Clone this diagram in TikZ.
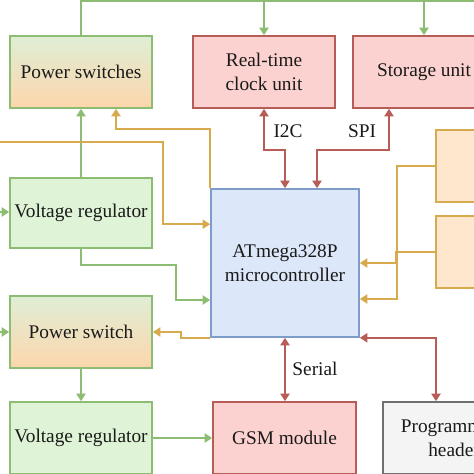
\documentclass[tikz,border=0pt]{standalone}
\usepackage{fontspec}
\setmainfont{Liberation Serif}
\usetikzlibrary{arrows.meta}
\definecolor{gline}{HTML}{8CBD72}
\definecolor{gfill}{HTML}{DFF4D6}
\definecolor{rline}{HTML}{B85C58}
\definecolor{rfill}{HTML}{FBD2D0}
\definecolor{bline}{HTML}{7E9CC8}
\definecolor{bfill}{HTML}{DCE8FA}
\definecolor{oline}{HTML}{D8AA4E}
\definecolor{ofill}{HTML}{FEE7CD}
\definecolor{kline}{HTML}{707070}
\definecolor{kfill}{HTML}{F4F4F4}
\definecolor{shtop}{HTML}{DFEED5}
\definecolor{shbot}{HTML}{FDD6AC}
\definecolor{txt}{HTML}{1A1A1A}
\begin{document}
\begin{tikzpicture}[x=1bp,y=-1bp,
  box/.style={draw, line width=1.6bp, minimum width=142bp, minimum height=72bp,
    inner sep=0pt, align=center, text=txt, font=\fontsize{19.4}{23.5}\selectfont},
  gbox/.style={box, draw=gline, fill=gfill},
  sbox/.style={box, draw=gline, top color=shtop, bottom color=shbot},
  rbox/.style={box, draw=rline, fill=rfill},
  obox/.style={box, draw=oline, fill=ofill},
  kbox/.style={box, draw=kline, fill=kfill},
  mbox/.style={box, draw=bline, fill=bfill, minimum width=148bp, minimum height=148bp},
  lbl/.style={inner sep=0pt, text=txt, font=\fontsize{19.4}{23.5}\selectfont},
  tip/.tip={Triangle[length=7.5bp,width=9bp]},
  gl/.style={draw=gline, line width=2bp},
  ga/.style={gl, -{tip[fill=gline]}},
  oa/.style={draw=oline, line width=2bp, -{tip[fill=oline]}},
  ra/.style={draw=rline, line width=2bp, {tip[fill=rline]}-{tip[fill=rline]}},
]
\useasboundingbox (0,0) rectangle (474,474);
\clip (0,0) rectangle (474,474);
\fill[white] (0,0) rectangle (474,474);

% boxes
\node[sbox] (ps1) at (81,72) {Power switches};
\node[rbox] (rtc) at (264,72) {Real-time\\clock unit};
\node[rbox] (sto) at (424,72) {Storage unit};
\node[obox] (o1) at (507,166) {};
\node[obox] (o2) at (507,252) {};
\node[gbox, minimum height=70bp] (vr1) at (81,213) {Voltage regulator};
\node[mbox] (mcu) at (285,263) {ATmega328P\\microcontroller};
\node[sbox] (ps2) at (81,332) {Power switch};
\node[gbox] (vr2) at (81,438) {Voltage regulator};
\node[rbox, minimum width=143bp] (gsm) at (284.5,438) {GSM module};
\node[kbox] (prog) at (454,438) {Programming\\header};

% free ends
\coordinate (top) at (0,1);
\coordinate (topR) at (480,1);
\coordinate (in1) at (0,212);
\coordinate (in2) at (0,332);
\coordinate (in3) at (-2,142);

% green
\draw[gl] (ps1.north) |- (topR);
\draw[ga] (rtc.north |- top) -- (rtc.north);
\draw[ga] (sto.north |- top) -- (sto.north);
\draw[ga] (vr1.north) -- (ps1.south);
\draw[ga] (in1) -- (in1 -| vr1.west);
\draw[ga] (vr1.south) |- (176,265) |- ([yshift=-37bp]mcu.west);
\draw[ga] (ps2.south) -- (vr2.north);
\draw[ga] (in2) -- (in2 -| ps2.west);
\draw[ga] (vr2.east) -- (gsm.west);

% orange
\draw[oa] (o1.west) -- ++(-38,0) |- ([yshift=-36bp]mcu.east);
\draw[oa] (o2.west) -- ++(-39,0) |- (mcu.east);
\draw[oa] (mcu.north west) -- ++(0,-59) -| ([xshift=35bp]ps1.south);
\draw[oa] (in3) -- (163,142) |- ([yshift=-36bp]mcu.north west);
\draw[oa] (mcu.south west) -- ++(-29,0) |- (ps2.east);

% red
\draw[ra] (rtc.south) -- ++(0,41) -| (mcu.north);
\draw[ra] ([xshift=-35bp]sto.south) -- ++(0,41) -| ([xshift=32bp]mcu.north);
\draw[ra] (mcu.south) -- (mcu.south |- gsm.north);
\draw[ra] (mcu.south east) -| ([xshift=-18bp]prog.north);

% labels
\node[lbl] (i2c) at (288,131) {I2C};
\node[lbl] (spi) at (362,131) {SPI};
\node[lbl] (serial) at (315,369) {Serial};
\end{tikzpicture}
\end{document}
